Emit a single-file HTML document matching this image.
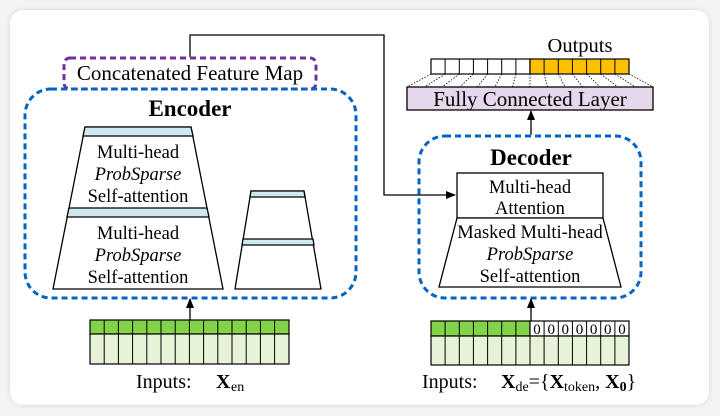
<!DOCTYPE html>
<html><head><meta charset="utf-8"><style>
html,body{margin:0;padding:0;width:720px;height:416px;background:#f3f3f3;overflow:hidden}
.card{position:absolute;left:10px;top:10px;width:699px;height:395px;background:#fff;border-radius:13px;box-shadow:0 0 5px rgba(0,0,0,0.12)}
svg{position:absolute;left:0;top:0}
text{font-family:"Liberation Serif",serif;fill:#000}
</style></head><body>
<div class="card"></div>
<svg width="720" height="416" viewBox="0 0 720 416">
<defs><marker id="ah" markerWidth="10" markerHeight="10" refX="9" refY="5" orient="auto" markerUnits="userSpaceOnUse"><path d="M0,1 L10,5 L0,9 z" fill="#000"/></marker></defs>
<polyline points="190,57 190,35 384,35 384,195 455,195" fill="none" stroke="#000" stroke-width="1.3" marker-end="url(#ah)"/>
<rect x="64" y="58" width="252" height="31" rx="6" fill="none" stroke="#7030a0" stroke-width="3" stroke-dasharray="6,4"/>
<text x="190" y="80" font-size="21" text-anchor="middle">Concatenated Feature Map</text>
<rect x="25" y="89" width="331" height="209" rx="26" fill="none" stroke="#0563c1" stroke-width="3" stroke-dasharray="6,4"/>
<text x="190" y="116" font-size="23" font-weight="bold" text-anchor="middle">Encoder</text>
<polygon points="85,127 191,127 223,289 53,289" fill="#fff" stroke="#000" stroke-width="1.3"/>
<polygon points="85,127 191,127 193,136 83,136" fill="#cdeaf0" stroke="#000" stroke-width="1.3"/>
<polygon points="69,208 207,208 209,217 67,217" fill="#cdeaf0" stroke="#000" stroke-width="1.3"/>
<text x="138" y="158" font-size="18.5" text-anchor="middle">Multi-head</text>
<text x="138" y="180" font-size="18.5" font-style="italic" text-anchor="middle">ProbSparse</text>
<text x="138" y="202" font-size="18.5" text-anchor="middle">Self-attention</text>
<text x="138" y="239" font-size="18.5" text-anchor="middle">Multi-head</text>
<text x="138" y="261" font-size="18.5" font-style="italic" text-anchor="middle">ProbSparse</text>
<text x="138" y="283" font-size="18.5" text-anchor="middle">Self-attention</text>
<polygon points="251,191 304,191 321,289 235,289" fill="#fff" stroke="#000" stroke-width="1.3"/>
<polygon points="251,191 304,191 305,197 250,197" fill="#cdeaf0" stroke="#000" stroke-width="1.3"/>
<polygon points="243,239 313,239 314,245 242,245" fill="#cdeaf0" stroke="#000" stroke-width="1.3"/>
<line x1="190" y1="320" x2="190" y2="299" stroke="#000" stroke-width="1.3" marker-end="url(#ah)"/>
<rect x="90" y="320" width="199" height="14" fill="#82d24a" stroke="#000" stroke-width="1.2"/>
<rect x="90" y="334" width="199" height="30" fill="#e6f3d9" stroke="#000" stroke-width="1.2"/>
<g stroke="#000" stroke-width="1">
<line x1="104.2" y1="320" x2="104.2" y2="364"/><line x1="118.4" y1="320" x2="118.4" y2="364"/><line x1="132.6" y1="320" x2="132.6" y2="364"/><line x1="146.8" y1="320" x2="146.8" y2="364"/><line x1="161" y1="320" x2="161" y2="364"/><line x1="175.2" y1="320" x2="175.2" y2="364"/><line x1="189.4" y1="320" x2="189.4" y2="364"/><line x1="203.6" y1="320" x2="203.6" y2="364"/><line x1="217.8" y1="320" x2="217.8" y2="364"/><line x1="232" y1="320" x2="232" y2="364"/><line x1="246.2" y1="320" x2="246.2" y2="364"/><line x1="260.4" y1="320" x2="260.4" y2="364"/><line x1="274.6" y1="320" x2="274.6" y2="364"/>
</g>
<text x="136" y="388" font-size="20">Inputs:</text>
<text x="216" y="388" font-size="20" font-weight="bold">X</text><text x="231" y="391" font-size="14">en</text>
<text x="580" y="52" font-size="20.5" text-anchor="middle">Outputs</text>
<rect x="431" y="59" width="99" height="15" fill="#fff" stroke="#000" stroke-width="1.2"/>
<rect x="530" y="59" width="99" height="15" fill="#ffc000" stroke="#000" stroke-width="1.2"/>
<g stroke="#000" stroke-width="1">
<line x1="445.1" y1="59" x2="445.1" y2="74"/><line x1="459.3" y1="59" x2="459.3" y2="74"/><line x1="473.4" y1="59" x2="473.4" y2="74"/><line x1="487.6" y1="59" x2="487.6" y2="74"/><line x1="501.7" y1="59" x2="501.7" y2="74"/><line x1="515.9" y1="59" x2="515.9" y2="74"/><line x1="544.1" y1="59" x2="544.1" y2="74"/><line x1="558.3" y1="59" x2="558.3" y2="74"/><line x1="572.4" y1="59" x2="572.4" y2="74"/><line x1="586.6" y1="59" x2="586.6" y2="74"/><line x1="600.7" y1="59" x2="600.7" y2="74"/><line x1="614.9" y1="59" x2="614.9" y2="74"/>
</g>
<g stroke="#000" stroke-width="0.8" stroke-dasharray="1.5,1.5">
<line x1="431" y1="74" x2="407" y2="87"/><line x1="445.1" y1="74" x2="424.6" y2="87"/><line x1="459.3" y1="74" x2="442.1" y2="87"/><line x1="473.4" y1="74" x2="459.7" y2="87"/><line x1="487.6" y1="74" x2="477.3" y2="87"/><line x1="501.7" y1="74" x2="494.9" y2="87"/><line x1="515.9" y1="74" x2="512.4" y2="87"/><line x1="530" y1="74" x2="530" y2="87"/><line x1="544.1" y1="74" x2="547.6" y2="87"/><line x1="558.3" y1="74" x2="565.1" y2="87"/><line x1="572.4" y1="74" x2="582.7" y2="87"/><line x1="586.6" y1="74" x2="600.3" y2="87"/><line x1="600.7" y1="74" x2="617.9" y2="87"/><line x1="614.9" y1="74" x2="635.4" y2="87"/><line x1="629" y1="74" x2="653" y2="87"/>
</g>
<rect x="407" y="87" width="246" height="23" fill="#e6d7ec" stroke="#000" stroke-width="1.3"/>
<text x="530" y="106" font-size="21" text-anchor="middle">Fully Connected Layer</text>
<line x1="531" y1="135" x2="531" y2="111" stroke="#000" stroke-width="1.3" marker-end="url(#ah)"/>
<rect x="419" y="136" width="222" height="162" rx="26" fill="none" stroke="#0563c1" stroke-width="3" stroke-dasharray="6,4"/>
<text x="531" y="165" font-size="23" font-weight="bold" text-anchor="middle">Decoder</text>
<rect x="457" y="173" width="146" height="45" fill="#fff" stroke="#000" stroke-width="1.3"/>
<text x="530" y="193" font-size="18.5" text-anchor="middle">Multi-head</text>
<text x="530" y="214" font-size="18.5" text-anchor="middle">Attention</text>
<polygon points="457,218 603,218 621,287 439,287" fill="#fff" stroke="#000" stroke-width="1.3"/>
<text x="530" y="238" font-size="18.5" text-anchor="middle">Masked Multi-head</text>
<text x="530" y="260" font-size="18.5" font-style="italic" text-anchor="middle">ProbSparse</text>
<text x="530" y="282" font-size="18.5" text-anchor="middle">Self-attention</text>
<line x1="531" y1="321" x2="531" y2="299" stroke="#000" stroke-width="1.3" marker-end="url(#ah)"/>
<rect x="431" y="321" width="99" height="15" fill="#82d24a" stroke="#000" stroke-width="1.2"/>
<rect x="530" y="321" width="99" height="15" fill="#fff" stroke="#000" stroke-width="1.2"/>
<rect x="431" y="336" width="198" height="29" fill="#e6f3d9" stroke="#000" stroke-width="1.2"/>
<g stroke="#000" stroke-width="1">
<line x1="445.1" y1="321" x2="445.1" y2="365"/><line x1="459.3" y1="321" x2="459.3" y2="365"/><line x1="473.4" y1="321" x2="473.4" y2="365"/><line x1="487.6" y1="321" x2="487.6" y2="365"/><line x1="501.7" y1="321" x2="501.7" y2="365"/><line x1="515.9" y1="321" x2="515.9" y2="365"/><line x1="530" y1="321" x2="530" y2="365"/><line x1="544.1" y1="321" x2="544.1" y2="365"/><line x1="558.3" y1="321" x2="558.3" y2="365"/><line x1="572.4" y1="321" x2="572.4" y2="365"/><line x1="586.6" y1="321" x2="586.6" y2="365"/><line x1="600.7" y1="321" x2="600.7" y2="365"/><line x1="614.9" y1="321" x2="614.9" y2="365"/>
</g>
<g font-size="15" text-anchor="middle">
<text x="537" y="334">0</text><text x="551.2" y="334">0</text><text x="565.3" y="334">0</text><text x="579.5" y="334">0</text><text x="593.6" y="334">0</text><text x="607.8" y="334">0</text><text x="622" y="334">0</text>
</g>
<text x="422" y="388" font-size="20">Inputs:</text>
<text x="501" y="388" font-size="20"><tspan font-weight="bold">X</tspan><tspan font-size="14" dy="3">de</tspan><tspan dy="-3">={</tspan><tspan font-weight="bold">X</tspan><tspan font-size="14" dy="3">token</tspan><tspan dy="-3">, </tspan><tspan font-weight="bold">X</tspan><tspan font-size="14" font-weight="bold" dy="3">0</tspan><tspan dy="-3">}</tspan></text>
</svg>
</body></html>
